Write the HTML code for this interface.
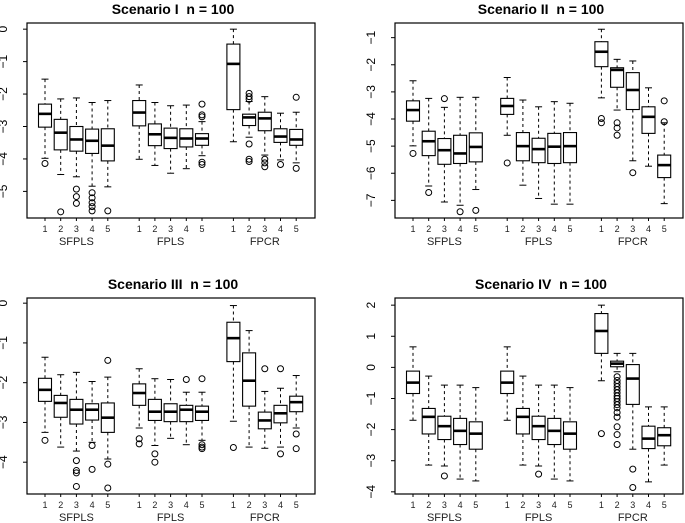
<!DOCTYPE html>
<html><head><meta charset="utf-8">
<style>
html,body{margin:0;padding:0;background:#fff;}
svg{display:block;font-family:"Liberation Sans",Arial,sans-serif;}
</style></head>
<body>
<svg id="chart" width="685" height="523" viewBox="0 0 685 523" xmlns="http://www.w3.org/2000/svg"></svg>
<script>
// Data arrays: each box = [lowWhisker, q1, median, q3, highWhisker]
const panelTitles = ["Scenario I\u00a0\u00a0n = 100","Scenario II\u00a0\u00a0n = 100","Scenario III\u00a0\u00a0n = 100","Scenario IV\u00a0\u00a0n = 100"];
const groupLabels = ["SFPLS","FPLS","FPCR"];
const boxLabels = ["1","2","3","4","5"];
const yTicks1 = [0,-1,-2,-3,-4,-5];
const yTicks2 = [-1,-2,-3,-4,-5,-6,-7];
const yTicks3 = [0,-1,-2,-3,-4];
const yTicks4 = [2,1,0,-1,-2,-3,-4];

const boxes1 = [
 [-3.98,-3.02,-2.61,-2.31,-1.54],[-4.48,-3.72,-3.19,-2.78,-2.15],[-4.55,-3.76,-3.40,-3.0,-2.12],[-4.84,-3.83,-3.44,-3.08,-2.26],[-4.86,-4.06,-3.59,-3.07,-2.2],
 [-4.01,-2.98,-2.57,-2.2,-1.72],[-4.2,-3.59,-3.24,-2.92,-2.26],[-4.44,-3.68,-3.35,-3.05,-2.36],[-4.30,-3.63,-3.37,-3.07,-2.34],[-3.9,-3.58,-3.37,-3.22,-2.85],
 [-3.47,-2.48,-1.07,-0.46,0],[-3.33,-2.97,-2.72,-2.62,-2.23],[-3.88,-3.13,-2.75,-2.56,-2.08],[-4.03,-3.49,-3.31,-3.07,-2.59],[-4.12,-3.58,-3.40,-3.09,-2.56]];
const outliers1 = [[-4.14],[-5.63],[-4.93,-5.16,-5.37],[-5.04,-5.2,-5.35,-5.47,-5.6],[-5.6],
 [],[],[],[],[-2.31,-2.64,-2.7,-4.1,-4.17],
 [],[-1.98,-2.08,-2.16,-3.54,-4.01,-4.08],[-4.01,-4.12,-4.24],[-4.17],[-2.1,-4.29]];

const boxes2 = [
 [-4.99,-4.08,-3.67,-3.33,-2.59],[-6.47,-5.35,-4.82,-4.45,-3.24],[-7.06,-5.67,-5.15,-4.72,-3.57],[-7.18,-5.64,-5.27,-4.6,-3.2],[-6.6,-5.58,-5.03,-4.51,-3.2],
 [-4.6,-3.83,-3.52,-3.24,-2.47],[-6.44,-5.54,-5.0,-4.50,-3.30],[-6.93,-5.61,-5.11,-4.71,-3.55],[-7.14,-5.64,-5.02,-4.53,-3.36],[-7.14,-5.61,-5.0,-4.50,-3.42],
 [-3.22,-2.07,-1.52,-1.15,-0.69],[-3.67,-2.83,-2.19,-2.11,-1.8],[-5.54,-3.65,-2.93,-2.29,-1.86],[-5.74,-4.53,-3.92,-3.55,-2.85],[-7.12,-6.16,-5.70,-5.33,-4.14]];
const outliers2 = [[-5.27],[-6.71],[-3.25],[-7.42],[-7.37],
 [-5.62],[],[],[],[],
 [-3.98,-4.14],[-4.14,-4.33,-4.6],[-5.98],[],[-3.33,-4.1]];

const boxes3 = [
 [-3.25,-2.47,-2.18,-1.89,-1.36],[-3.62,-2.87,-2.51,-2.32,-1.80],[-3.72,-3.04,-2.68,-2.42,-1.74],[-3.50,-2.94,-2.68,-2.53,-1.97],[-3.92,-3.25,-2.88,-2.51,-1.86],
 [-3.14,-2.57,-2.26,-2.03,-1.65],[-3.58,-2.95,-2.73,-2.42,-1.9],[-3.40,-2.98,-2.73,-2.53,-1.92],[-3.56,-2.98,-2.68,-2.57,-2.24],[-3.45,-2.95,-2.73,-2.59,-2.24],
 [-2.97,-1.47,-0.88,-0.48,-0.06],[-3.62,-2.59,-1.95,-1.25,-0.69],[-3.65,-3.16,-2.95,-2.74,-2.22],[-3.62,-3.01,-2.77,-2.57,-2.14],[-3.14,-2.73,-2.49,-2.34,-1.82]];
const outliers3 = [[-3.45],[],[-3.96,-4.21,-4.27,-4.61],[-3.58,-4.18],[-1.44,-4.05,-4.65],
 [-3.41,-3.54],[-3.79,-4.0],[],[-1.92],[-1.9,-3.56,-3.62,-3.66],
 [-3.63],[],[-1.65],[-1.65,-3.79],[-3.29,-3.66]];

const boxes4 = [
 [-1.70,-0.84,-0.49,-0.12,0.66],[-3.14,-2.14,-1.59,-1.32,-0.28],[-3.17,-2.32,-1.89,-1.57,-0.57],[-3.59,-2.48,-2.04,-1.64,-0.57],[-3.65,-2.63,-2.13,-1.75,-0.65],
 [-1.70,-0.84,-0.49,-0.12,0.66],[-3.14,-2.14,-1.59,-1.32,-0.28],[-3.17,-2.32,-1.89,-1.57,-0.57],[-3.59,-2.48,-2.04,-1.64,-0.57],[-3.65,-2.63,-2.13,-1.75,-0.65],
 [-0.43,0.45,1.17,1.73,2.0],[-0.14,0.02,0.12,0.20,0.45],[-2.63,-1.19,-0.36,0.09,0.45],[-3.68,-2.61,-2.29,-1.89,-1.27],[-3.14,-2.52,-2.18,-1.94,-1.27]];
const outliers4 = [[],[],[-3.49],[],[],
 [],[],[-3.43],[],[],
 [-2.13],[-0.3,-0.42,-0.52,-0.62,-0.72,-0.82,-0.92,-1.0,-1.1,-1.2,-1.3,-1.45,-1.6,-1.91,-2.16,-2.48],[-3.27,-3.86],[],[]];

const panels = [
 {title:panelTitles[0], left:27, top:23, right:315, bottom:218, ymax:0.19, ymin:-5.82, ticks:yTicks1, boxes:boxes1, out:outliers1},
 {title:panelTitles[1], left:395, top:23, right:683, bottom:218, ymax:-0.46, ymin:-7.65, ticks:yTicks2, boxes:boxes2, out:outliers2},
 {title:panelTitles[2], left:27, top:298, right:315, bottom:494, ymax:0.13, ymin:-4.80, ticks:yTicks3, boxes:boxes3, out:outliers3},
 {title:panelTitles[3], left:395, top:298, right:683, bottom:494, ymax:2.23, ymin:-4.07, ticks:yTicks4, boxes:boxes4, out:outliers4}
];

const svg = document.getElementById('chart');
const NS = 'http://www.w3.org/2000/svg';
function mk(tag, attrs, parent){
  const e = document.createElementNS(NS, tag);
  for (const k in attrs) e.setAttribute(k, attrs[k]);
  parent.appendChild(e);
  return e;
}

panels.forEach((p, pi) => {
  const g = mk('g', {}, svg);
  
  
  const yS = v => p.top + (p.ymax - v) / (p.ymax - p.ymin) * (p.bottom - p.top);
  const pos = i => i + 1 + Math.floor(i/5);
  const xS = ps => p.left + 18 + (ps - 1) * 15.7;

  const t = mk('text', {x:(p.left+p.right)/2 + 2, y:p.top - 9, 'text-anchor':'middle', 'font-size':14, 'font-weight':'bold'}, g);
  t.textContent = p.title;
  
  

  const frame = mk('rect', {x:p.left, y:p.top, width:p.right-p.left, height:p.bottom-p.top, fill:'none', stroke:'#000', 'stroke-width':1.2}, g);
  
  

  const yaxis = mk('g', {}, g);
  
  
  p.ticks.forEach(v => {
    const y = yS(v);
    mk('line', {x1:p.left-4, x2:p.left, y1:y, y2:y, stroke:'#000'}, yaxis);
    const lx = p.left - 20;
    const tx = mk('text', {x:lx, y:y, 'text-anchor':'middle', 'font-size':12, transform:'rotate(-90 '+lx+' '+y+')'}, yaxis);
    tx.textContent = (v < 0 ? '\u2212' + (-v) : String(v));
    
    
  });

  const xaxis = mk('g', {}, g);
  
  
  for (let i = 0; i < 15; i++) {
    const x = xS(pos(i));
    mk('line', {x1:x, x2:x, y1:p.bottom, y2:p.bottom+3, stroke:'#000'}, xaxis);
    const tx = mk('text', {x:x, y:p.bottom+14, 'text-anchor':'middle', 'font-size':9, fill:'#222'}, xaxis);
    tx.textContent = boxLabels[i % 5];
    
    
  }
  groupLabels.forEach((lab, gi) => {
    const x = xS(pos(gi*5 + 2));
    const tx = mk('text', {x:x, y:p.bottom+27, 'text-anchor':'middle', 'font-size':11, fill:'#222'}, xaxis);
    tx.textContent = lab;
    
    
  });

  p.boxes.forEach((b, i) => {
    const x = xS(pos(i)), hw = 6.5;
    const bg = mk('g', {}, g);
    
    
    const [lo, q1, md, q3, hi] = b;
    mk('line', {x1:x, x2:x, y1:yS(hi), y2:yS(q3), stroke:'#000', 'stroke-dasharray':'3,3'}, bg);
    mk('line', {x1:x, x2:x, y1:yS(q1), y2:yS(lo), stroke:'#000', 'stroke-dasharray':'3,3'}, bg);
    mk('line', {x1:x-3.5, x2:x+3.5, y1:yS(hi), y2:yS(hi), stroke:'#000'}, bg);
    mk('line', {x1:x-3.5, x2:x+3.5, y1:yS(lo), y2:yS(lo), stroke:'#000'}, bg);
    mk('rect', {x:x-hw, y:yS(q3), width:2*hw, height:Math.max(0.5, yS(q1)-yS(q3)), fill:'#fff', stroke:'#000', 'stroke-width':1.1}, bg);
    mk('line', {x1:x-hw, x2:x+hw, y1:yS(md), y2:yS(md), stroke:'#000', 'stroke-width':2.6}, bg);
    p.out[i].forEach(v => {
      const c = mk('circle', {cx:x, cy:yS(v), r:3, fill:'none', stroke:'#000', 'stroke-width':1}, bg);
      
      
    });
  });
});
</script>
</body></html>
